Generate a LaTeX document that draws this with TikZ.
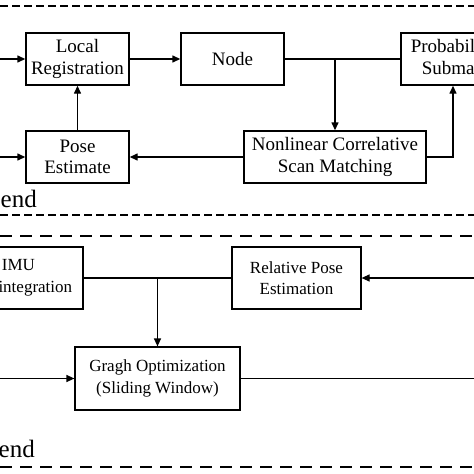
\documentclass[tikz,border=0pt]{standalone}
\usepackage{fontspec}
\setmainfont{Liberation Serif}
\usetikzlibrary{arrows.meta}
\tikzset{
  boxU/.style={draw, line width=1.4pt, rectangle, align=center, inner sep=0pt,
    font=\fontsize{19}{21.5}\selectfont, minimum height=52pt},
  boxL/.style={draw, line width=1.2pt, rectangle, align=center, inner sep=0pt,
    font=\fontsize{17}{21.5}\selectfont},
  arrU/.style={line width=1.4pt, -{Triangle[length=8pt,width=7pt]}},
  lnU/.style={line width=1.4pt},
  arrL/.style={line width=1.2pt, -{Triangle[length=8pt,width=7pt]}},
  lnL/.style={line width=1.2pt},
  dashU/.style={line width=1.2pt, dash pattern=on 8pt off 4pt},
  dashL/.style={line width=1.3pt, dash pattern=on 12pt off 8pt},
  lbl/.style={font=\fontsize{25}{25}\selectfont, inner sep=0pt}
}
\begin{document}
\begin{tikzpicture}[x=1pt,y=-1pt]
\useasboundingbox (0,0) rectangle (474,474);
\clip (0,0) rectangle (474,474);
% dashed separators
\coordinate (d1a) at (0,6);   \coordinate (d1b) at (474,6);
\coordinate (d2a) at (0,215); \coordinate (d2b) at (474,215);
\coordinate (d3a) at (0,236); \coordinate (d3b) at (474,236);
\coordinate (d4a) at (0,467); \coordinate (d4b) at (474,467);
\draw[dashU] (d1a) -- (d1b);
\draw[dashU] (d2a) -- (d2b);
\draw[dashL] (d3a) -- (d3b);
\draw[dashL] (d4a) -- (d4b);
% upper part
\node[boxU, minimum width=103pt] (lr) at (77.5,59) {Local\\Registration};
\node[boxU, minimum width=103pt] (pe) at (77.5,157) {Pose\\Estimate};
\node[boxU, minimum width=103pt] (nd) at (232.5,59) {Node};
\node[boxU, minimum width=182pt] (nc) at (335,157) {Nonlinear Correlative\\Scan Matching};
\node[boxU, minimum width=104pt] (ps) at (453,59) {Probability\\Submap};
\node[lbl, anchor=base east] (fe) at (37,207) {end};
\coordinate (inA) at (0,59);
\coordinate (inB) at (0,157);
\coordinate (b2) at (nc.north |- nd.east);
\coordinate (c2) at (ps.south |- nc.east);
\draw[arrU] (inA) -- (lr.west);
\draw[arrU] (inB) -- (pe.west);
\draw[arrU] (pe.north) -- (lr.south);
\draw[arrU] (lr.east) -- (nd.west);
\draw[lnU] (nd.east) -- (ps.west);
\draw[arrU] (b2) -- (nc.north);
\draw[arrU] (nc.west) -- (pe.east);
\draw[arrU] (nc.east) -- (c2) -- (ps.south);
% lower part
\node[boxL, minimum width=118pt, minimum height=62pt] (imu) at (24,278) {\hspace*{-11pt}IMU\\Preintegration};
\node[boxL, minimum width=129pt, minimum height=62pt] (rp) at (296.5,278) {Relative Pose\\Estimation};
\node[boxL, minimum width=165pt, minimum height=63pt] (go) at (157.5,378.5) {Gragh Optimization\\(Sliding Window)};
\node[lbl, anchor=base east] (be) at (35,457) {end};
\coordinate (b1) at (go.north |- imu.east);
\coordinate (inC) at (0,378.5);
\coordinate (inD) at (474,278);
\coordinate (outE) at (474,378.5);
\draw[lnL] (imu.east) -- (rp.west);
\draw[arrL] (b1) -- (go.north);
\draw[arrL] (inC) -- (go.west);
\draw[arrL] (inD) -- (rp.east);
\draw[lnL] (go.east) -- (outE);
\end{tikzpicture}
\end{document}
